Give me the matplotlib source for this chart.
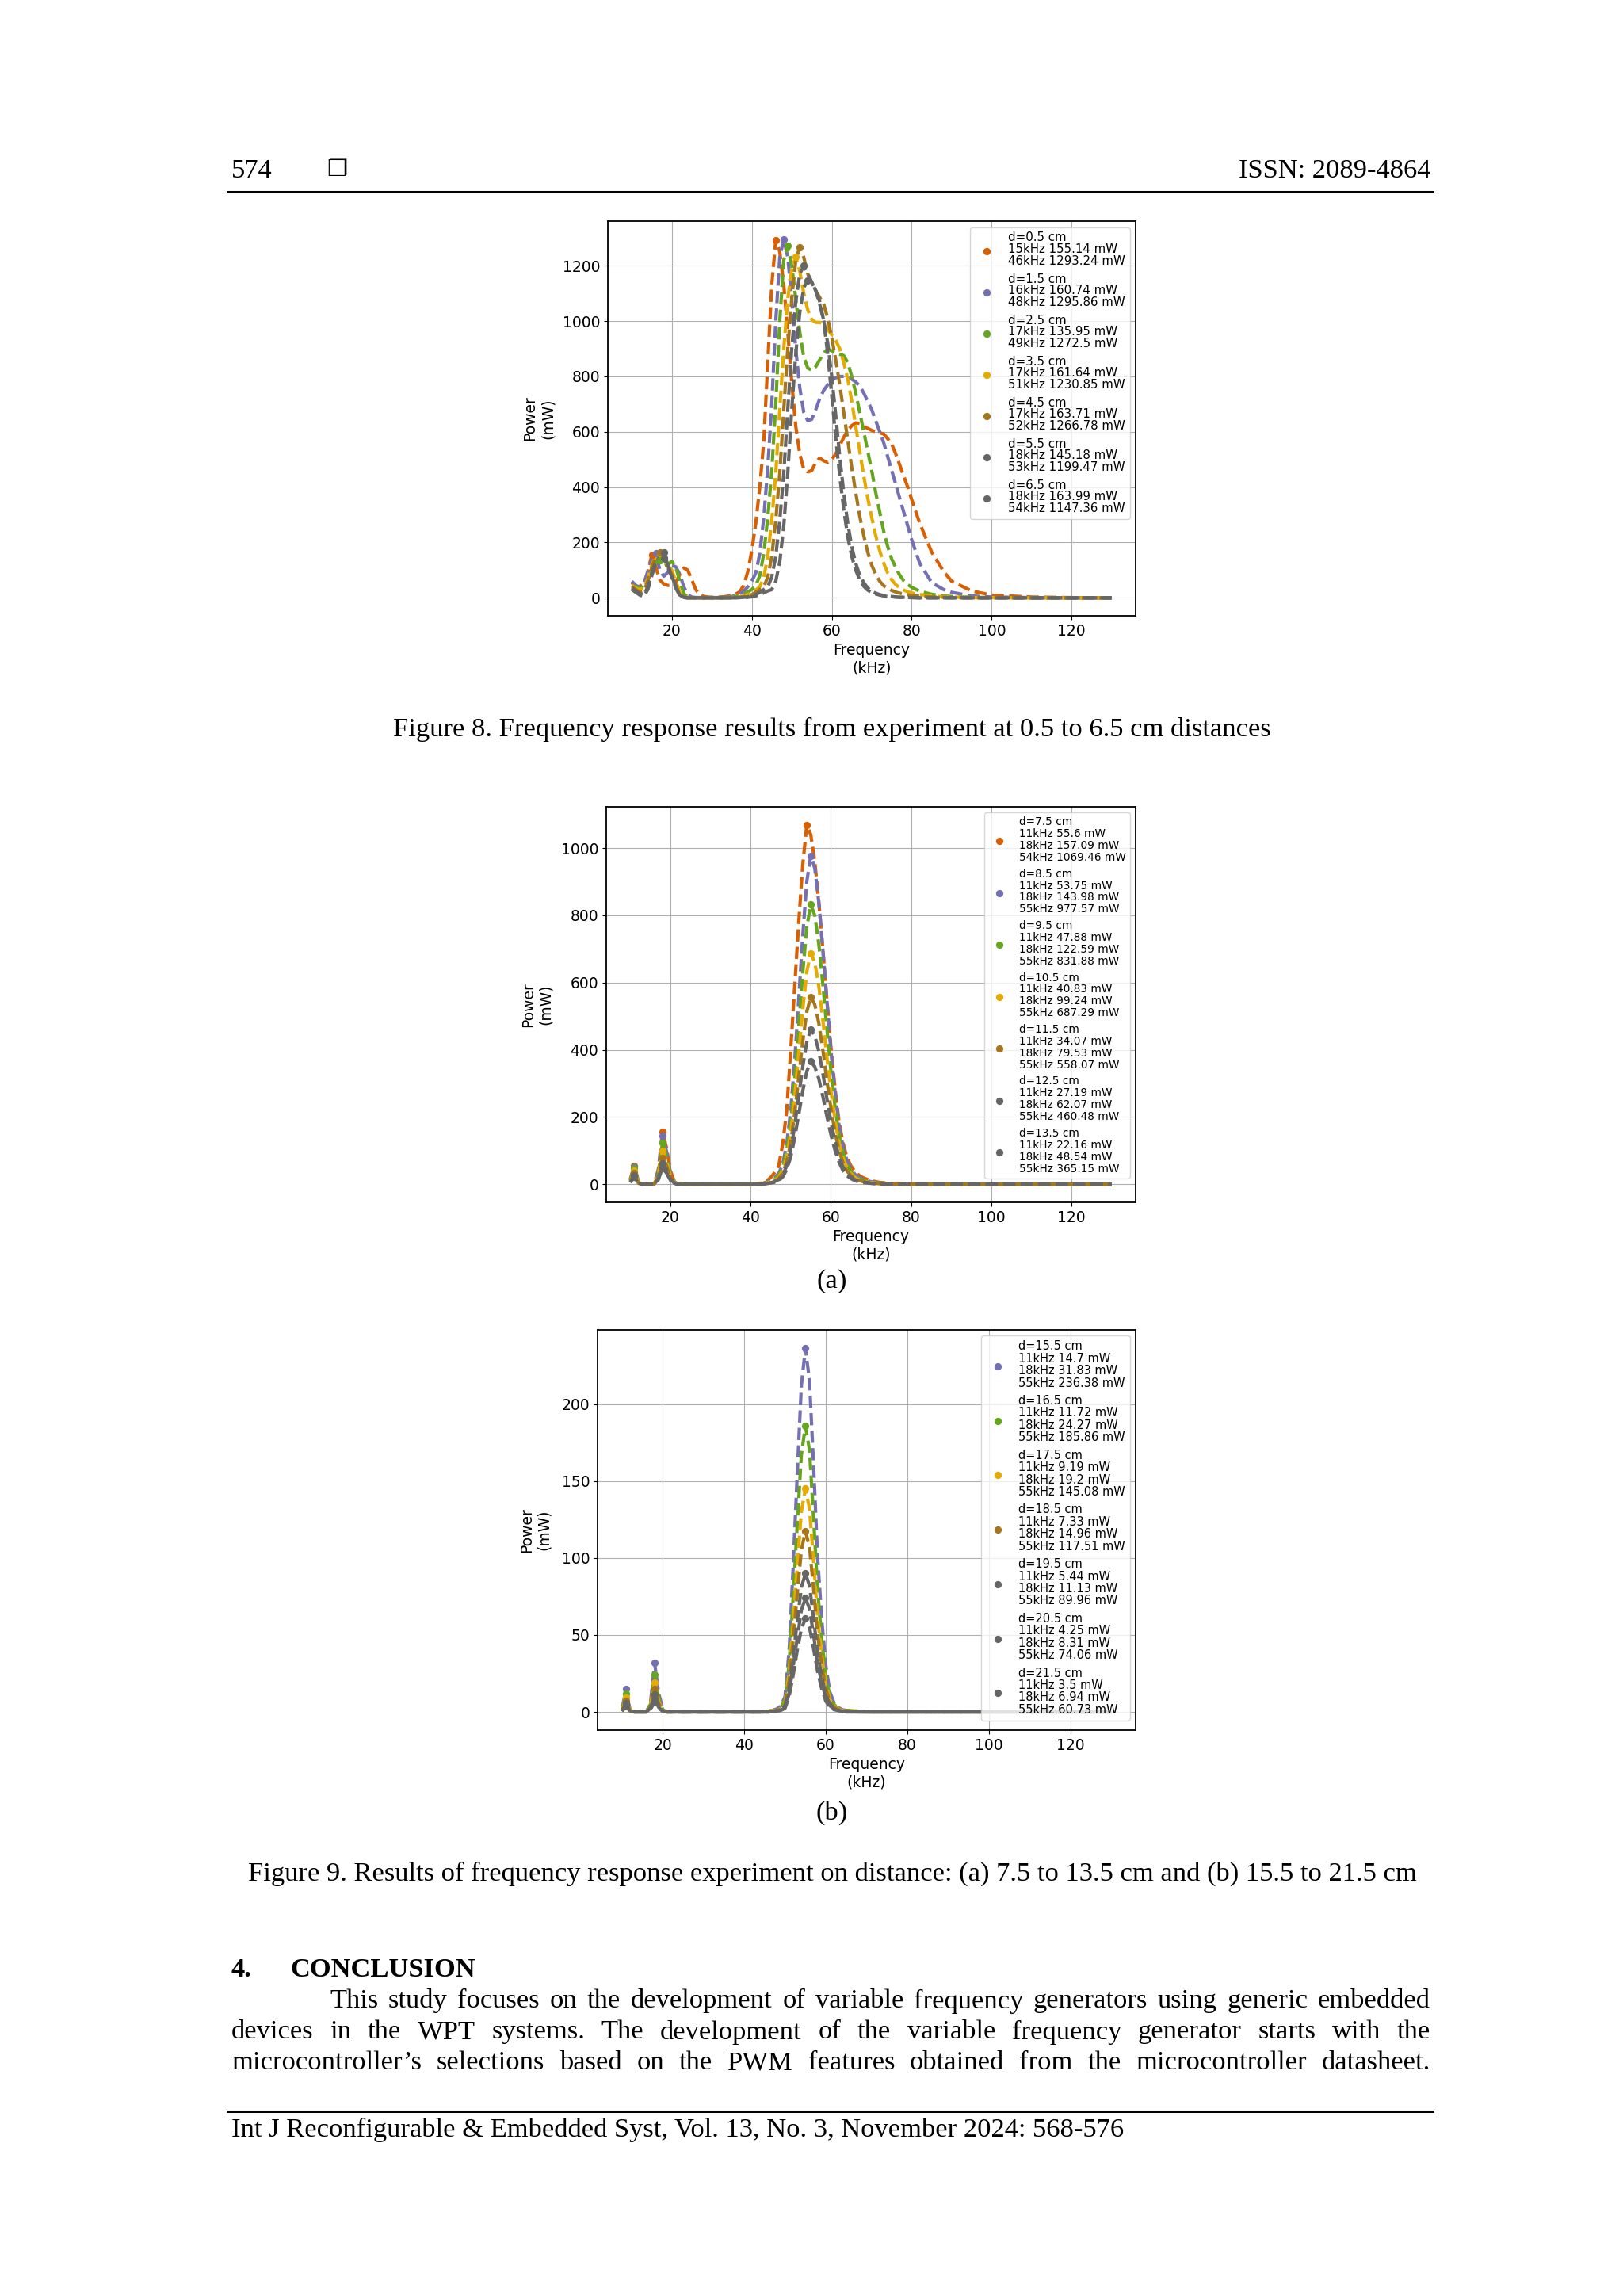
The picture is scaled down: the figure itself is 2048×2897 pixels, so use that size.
import matplotlib.pyplot as plt

W, H = 2048, 2897

# ---------------- Figure 8 data (0.5 to 6.5 cm) ----------------
freq8 = list(range(10, 81)) + [82, 85, 88, 90, 95, 100, 110, 120, 130]

p8_05 = [55, 40, 42, 50, 95, 155, 110, 65, 50, 45,
         45, 55, 85, 108, 100, 65, 30, 12, 5, 3,
         2, 2, 3, 4, 6, 9, 14, 22, 45, 95,
         170, 270, 400, 565, 850, 1130, 1293, 1250, 1130, 960,
         780, 620, 520, 465, 455, 460, 490, 505, 495, 490,
         500, 520, 550, 580, 605, 622, 632, 630, 620, 612,
         605, 600, 596, 592, 575, 555, 520, 480, 440, 400,
         355, 270, 165, 95, 60, 25, 10, 3, 1, 0]
p8_15 = [60, 45, 38, 50, 95, 140, 161, 100, 78, 92,
         118, 112, 85, 40, 12, 3, 1, 1, 1, 1,
         1, 1, 1, 2, 3, 5, 8, 15, 25, 40,
         60, 90, 160, 290, 470, 700, 1000, 1230, 1296, 1230,
         1080, 900, 760, 670, 640, 645, 680, 720, 750, 770,
         785, 795, 800, 800, 795, 790, 780, 765, 740, 710,
         680, 640, 600, 560, 510, 460, 410, 360, 310, 260,
         210, 125, 55, 30, 20, 7, 3, 1, 0, 0]
p8_25 = [45, 40, 35, 40, 65, 100, 128, 136, 115, 120,
         132, 110, 60, 15, 3, 1, 1, 1, 1, 1,
         1, 1, 1, 1, 2, 3, 5, 8, 14, 22,
         30, 45, 80, 160, 290, 460, 700, 1000, 1220, 1272,
         1200, 1080, 960, 870, 830, 822, 835, 860, 885, 898,
         892, 885, 880, 875, 850, 800, 740, 670, 600, 530,
         460, 380, 310, 240, 185, 140, 110, 82, 62, 48,
         38, 24, 13, 7, 5, 2, 1, 0, 0, 0]
p8_35 = [45, 35, 30, 35, 70, 120, 150, 162, 140, 118,
         100, 60, 20, 5, 1, 0, 0, 0, 0, 0,
         0, 0, 0, 0, 1, 1, 2, 4, 7, 12,
         18, 28, 40, 75, 150, 280, 450, 680, 900, 1080,
         1190, 1231, 1180, 1100, 1040, 1005, 995, 995, 990, 970,
         950, 930, 900, 850, 790, 710, 620, 530, 440, 360,
         290, 225, 170, 125, 90, 65, 48, 36, 28, 22,
         18, 12, 7, 4, 3, 1, 1, 0, 0, 0]
p8_45 = [40, 30, 20, 25, 60, 110, 150, 164, 145, 115,
         85, 45, 12, 2, 0, 0, 0, 0, 0, 0,
         0, 0, 0, 0, 0, 1, 1, 2, 4, 7,
         12, 20, 30, 40, 75, 150, 280, 450, 680, 900,
         1080, 1220, 1267, 1230, 1170, 1140, 1110, 1085, 1060, 1010,
         940, 860, 770, 670, 570, 470, 380, 295, 225, 165,
         118, 85, 60, 44, 34, 27, 21, 17, 14, 11,
         9, 6, 3, 2, 1, 0, 0, 0, 0, 0]
p8_55 = [35, 25, 15, 10, 40, 90, 130, 142, 145, 110,
         75, 35, 8, 1, 0, 0, 0, 0, 0, 0,
         0, 0, 0, 0, 0, 0, 1, 1, 2, 4,
         7, 12, 20, 30, 40, 75, 150, 280, 450, 680,
         900, 1070, 1170, 1199, 1170, 1140, 1110, 1070, 1000, 880,
         730, 580, 440, 320, 220, 150, 100, 65, 42, 28,
         19, 14, 10, 7, 5, 4, 3, 2, 2, 1,
         1, 0, 0, 0, 0, 0, 0, 0, 0, 0]
p8_65 = [30, 20, 10, 5, 30, 80, 125, 150, 164, 120,
         80, 40, 10, 2, 0, 0, 0, 0, 0, 0,
         0, 0, 0, 0, 0, 0, 0, 1, 1, 2,
         4, 7, 12, 18, 25, 30, 60, 130, 260, 450,
         680, 880, 1030, 1120, 1147, 1140, 1110, 1060, 1000, 920,
         800, 660, 510, 380, 270, 185, 125, 82, 55, 36,
         24, 17, 12, 8, 6, 5, 3, 2, 2, 1,
         1, 0, 0, 0, 0, 0, 0, 0, 0, 0]

dist8 = [0.5, 1.5, 2.5, 3.5, 4.5, 5.5, 6.5]
peak_f8 = [[15, 46], [16, 48], [17, 49], [17, 51], [17, 52], [18, 53], [18, 54]]
peak_p8 = [[155.14, 1293.24], [160.74, 1295.86], [135.95, 1272.5], [161.64, 1230.85],
           [163.71, 1266.78], [145.18, 1199.47], [163.99, 1147.36]]
series8 = [p8_05, p8_15, p8_25, p8_35, p8_45, p8_55, p8_65]

# ---------------- Figure 9(a) data (7.5 to 13.5 cm) ----------------
freq9a = [10, 11, 12, 13, 14, 16, 17, 18, 19, 20, 21, 22, 25, 30, 35, 40, 42, 43, 44] \
    + list(range(45, 71)) + [72, 75, 80, 90, 100, 110, 120, 130]

p9_75 = [15, 55.6, 8, 1, 0, 2, 45, 157.09, 110, 40, 8, 2, 0, 0, 0, 0, 2, 5, 10,
         20, 35, 55, 120, 220, 400, 590, 780, 950, 1069.46,
         1040, 960, 840, 700, 550, 410, 290, 190, 125, 80,
         55, 38, 27, 20, 15, 11,
         6, 3, 1, 0, 0, 0, 0, 0]
p9_85 = [14, 53.75, 7, 1, 0, 2, 40, 143.98, 100, 35, 7, 1, 0, 0, 0, 0, 1, 3, 7,
         12, 20, 32, 60, 120, 220, 370, 550, 740, 900,
         977.57, 940, 840, 700, 550, 400, 280, 180, 115, 72,
         46, 30, 21, 15, 11, 8,
         4, 2, 1, 0, 0, 0, 0, 0]
p9_95 = [12, 47.88, 6, 1, 0, 2, 34, 122.59, 85, 30, 6, 1, 0, 0, 0, 0, 1, 2, 5,
         10, 16, 26, 50, 100, 185, 315, 470, 630, 765,
         831.88, 800, 715, 595, 465, 340, 235, 150, 95, 60,
         38, 25, 17, 12, 9, 6,
         3, 1, 0, 0, 0, 0, 0, 0]
p9_105 = [10, 40.83, 5, 1, 0, 1, 28, 99.24, 70, 25, 5, 1, 0, 0, 0, 0, 1, 2, 4,
          8, 13, 21, 41, 82, 152, 260, 390, 520, 632,
          687.29, 660, 590, 490, 380, 280, 195, 125, 80, 50,
          32, 21, 14, 10, 7, 5,
          3, 1, 0, 0, 0, 0, 0, 0]
p9_115 = [8, 34.07, 4, 1, 0, 1, 22, 79.53, 56, 20, 4, 1, 0, 0, 0, 0, 1, 1, 3,
          6, 10, 17, 33, 67, 124, 212, 318, 425, 513,
          558.07, 535, 480, 400, 310, 228, 158, 102, 65, 40,
          26, 17, 11, 8, 6, 4,
          2, 1, 0, 0, 0, 0, 0, 0]
p9_125 = [6, 27.19, 3, 0, 0, 1, 17, 62.07, 44, 16, 3, 0, 0, 0, 0, 0, 0, 1, 2,
          5, 8, 14, 27, 55, 102, 175, 262, 350, 424,
          460.48, 442, 396, 330, 256, 188, 130, 84, 53, 33,
          21, 14, 9, 7, 5, 3,
          2, 1, 0, 0, 0, 0, 0, 0]
p9_135 = [5, 22.16, 2, 0, 0, 1, 14, 48.54, 34, 12, 2, 0, 0, 0, 0, 0, 0, 1, 2,
          4, 6, 11, 22, 44, 81, 139, 208, 278, 336,
          365.15, 350, 314, 262, 203, 149, 103, 67, 42, 26,
          17, 11, 7, 5, 4, 3,
          1, 1, 0, 0, 0, 0, 0, 0]

dist9a = [7.5, 8.5, 9.5, 10.5, 11.5, 12.5, 13.5]
peak_f9a = [[11, 18, 54], [11, 18, 55], [11, 18, 55], [11, 18, 55],
            [11, 18, 55], [11, 18, 55], [11, 18, 55]]
peak_p9a = [[55.6, 157.09, 1069.46], [53.75, 143.98, 977.57], [47.88, 122.59, 831.88],
            [40.83, 99.24, 687.29], [34.07, 79.53, 558.07], [27.19, 62.07, 460.48],
            [22.16, 48.54, 365.15]]
series9a = [p9_75, p9_85, p9_95, p9_105, p9_115, p9_125, p9_135]

# ---------------- Figure 9(b) data (15.5 to 21.5 cm) ----------------
freq9b = [10, 11, 12, 13, 16, 17, 18, 19, 20, 21, 25, 30, 35, 40, 45, 46, 47, 48] \
    + list(range(49, 66)) + [68, 70, 75, 80, 90, 100, 110, 120, 130]

p9_155 = [2, 14.7, 1, 0, 0, 6, 31.83, 12, 2, 0, 0, 0, 0, 0, 0, 0.5, 1, 2,
          4, 10, 40, 95, 155, 212, 236.38, 215, 160, 100, 60, 30, 13, 6, 3, 1.5, 1,
          0.5, 0, 0, 0, 0, 0, 0, 0, 0]
p9_165 = [1.5, 11.72, 1, 0, 0, 5, 24.27, 9, 1.5, 0, 0, 0, 0, 0, 0, 0.5, 1, 1.5,
          3, 8, 31, 75, 122, 167, 185.86, 170, 126, 79, 47, 24, 10, 5, 2, 1, 1,
          0.5, 0, 0, 0, 0, 0, 0, 0, 0]
p9_175 = [1, 9.19, 1, 0, 0, 4, 19.2, 7, 1, 0, 0, 0, 0, 0, 0, 0.5, 1, 1,
          2.5, 6, 25, 58, 95, 130, 145.08, 132, 98, 61, 37, 18, 8, 4, 2, 1, 0.5,
          0, 0, 0, 0, 0, 0, 0, 0, 0]
p9_185 = [1, 7.33, 0.5, 0, 0, 3, 14.96, 5.5, 1, 0, 0, 0, 0, 0, 0, 0, 0.5, 1,
          2, 5, 20, 47, 77, 105, 117.51, 107, 80, 50, 30, 15, 6.5, 3, 1.5, 1, 0.5,
          0, 0, 0, 0, 0, 0, 0, 0, 0]
p9_195 = [0.5, 5.44, 0.5, 0, 0, 2.5, 11.13, 4, 0.5, 0, 0, 0, 0, 0, 0, 0, 0.5, 1,
          1.5, 4, 15, 36, 59, 81, 89.96, 82, 61, 38, 23, 11, 5, 2.5, 1, 0.5, 0,
          0, 0, 0, 0, 0, 0, 0, 0, 0]
p9_205 = [0.5, 4.25, 0.5, 0, 0, 2, 8.31, 3, 0.5, 0, 0, 0, 0, 0, 0, 0, 0.5, 0.5,
          1, 3, 12, 30, 48, 66, 74.06, 67, 50, 31, 19, 9, 4, 2, 1, 0.5, 0,
          0, 0, 0, 0, 0, 0, 0, 0, 0]
p9_215 = [0.5, 3.5, 0.5, 0, 0, 1.5, 6.94, 2.5, 0.5, 0, 0, 0, 0, 0, 0, 0, 0.5, 0.5,
          1, 2.5, 10, 24, 40, 54, 60.73, 55, 41, 26, 15, 7, 3, 1.5, 1, 0.5, 0,
          0, 0, 0, 0, 0, 0, 0, 0, 0]

dist9b = [15.5, 16.5, 17.5, 18.5, 19.5, 20.5, 21.5]
peak_f9b = [[11, 18, 55]] * 7
peak_p9b = [[14.7, 31.83, 236.38], [11.72, 24.27, 185.86], [9.19, 19.2, 145.08],
            [7.33, 14.96, 117.51], [5.44, 11.13, 89.96], [4.25, 8.31, 74.06],
            [3.5, 6.94, 60.73]]
series9b = [p9_155, p9_165, p9_175, p9_185, p9_195, p9_205, p9_215]

# cores (Dark2)
orange, purple, green, yellow, brown, gray = '#d95f02', '#7570b3', '#66a61e', '#e6ab02', '#a6761d', '#666666'
colors_a = [orange, purple, green, yellow, brown, gray, gray]
colors_b = [purple, green, yellow, brown, gray, gray, gray]

fig = plt.figure(figsize=(W / 100, H / 100), dpi=100)


def add_axes_px(left, top, right, bottom):
    return fig.add_axes([left / W, 1 - bottom / H, (right - left) / W, (bottom - top) / H])


def draw_chart(ax, freq, series, dists, peaks_f, peaks_p, colors, leg_size, leg_ls, ylab_x):
    for vals, d, pf, pp, c in zip(series, dists, peaks_f, peaks_p, colors):
        ax.plot(freq, vals, linestyle='--', color=c, linewidth=3.0)
        label = f"d={d} cm\n" + "\n".join(f"{f}kHz {p} mW" for f, p in zip(pf, pp))
        ax.scatter(pf, pp, color=c, s=32, label=label, zorder=3)
    ax.grid(True)
    ax.set_xticks([20, 40, 60, 80, 100, 120])
    ax.tick_params(labelsize=13.5)
    ax.set_xlabel("Frequency\n(kHz)", fontsize=13.5)
    ax.set_ylabel("Power\n(mW)", fontsize=13.5)
    ax.yaxis.set_label_coords(ylab_x, 0.5)
    for s in ax.spines.values():
        s.set_linewidth(1.3)
    leg = ax.legend(loc='upper right', fontsize=leg_size)
    for t in leg.get_texts():
        t.set_linespacing(leg_ls)


ax8 = add_axes_px(767, 279, 1433, 777)
draw_chart(ax8, freq8, series8, dist8, peak_f8, peak_p8, colors_a, 10.8, 0.98, -0.10)

ax9a = add_axes_px(765, 1018, 1433, 1517)
draw_chart(ax9a, freq9a, series9a, dist9a, peak_f9a, peak_p9a, colors_a, 9.8, 1.08, -0.10)

ax9b = add_axes_px(754, 1678, 1433, 2183)
draw_chart(ax9b, freq9b, series9b, dist9b, peak_f9b, peak_p9b, colors_b, 10.5, 1.04, -0.085)

# ---------------- page text ----------------
serif = ['Liberation Serif', 'DejaVu Serif']
fs = 24.8
x_left, x_right = 292, 1805


def page_text(x, y, s, **kw):
    kw.setdefault('fontsize', fs)
    kw.setdefault('family', serif)
    return fig.text(x / W, 1 - y / H, s, va='center', **kw)


def page_rule(y, lw=2.2):
    fig.add_artist(plt.Line2D([287 / W, 1808 / W], [1 - y / H, 1 - y / H], color='black', linewidth=lw))


page_text(x_left, 216, "574")
page_text(412, 214, "\u2750", family=['DejaVu Sans'], fontsize=21)
page_text(x_right, 216, "ISSN: 2089-4864", ha='right')
page_rule(242)

page_text(1050, 920, "Figure 8. Frequency response results from experiment at 0.5 to 6.5 cm distances", ha='center')
page_text(1050, 1617, "(a)", ha='center')
page_text(1050, 2287, "(b)", ha='center')
page_text(1050, 2364, "Figure 9. Results of frequency response experiment on distance: (a) 7.5 to 13.5 cm "
          "and (b) 15.5 to 21.5 cm", ha='center')

page_text(x_left, 2485, "4.", weight='bold')
page_text(366, 2485, "CONCLUSION", weight='bold')

linhas = [
    (416, 2525, "This study focuses on the development of variable frequency generators using generic embedded"),
    (x_left, 2564, "devices in the WPT systems. The development of the variable frequency generator starts with the"),
    (x_left, 2603, "microcontroller\u2019s selections based on the PWM features obtained from the microcontroller datasheet."),
]
renderer = fig.canvas.get_renderer()
for x0, y, linha in linhas:
    palavras = linha.split()
    textos = [page_text(x0, y, p) for p in palavras]
    larguras = [t.get_window_extent(renderer).width for t in textos]
    gap = (x_right - x0 - sum(larguras)) / (len(palavras) - 1)
    x = x0
    for t, w in zip(textos, larguras):
        t.set_x(x / W)
        x += w + gap

page_rule(2664)
page_text(x_left, 2687, "Int J Reconfigurable & Embedded Syst, Vol. 13, No. 3, November 2024: 568-576")

fig.savefig("out.png", dpi=100)
